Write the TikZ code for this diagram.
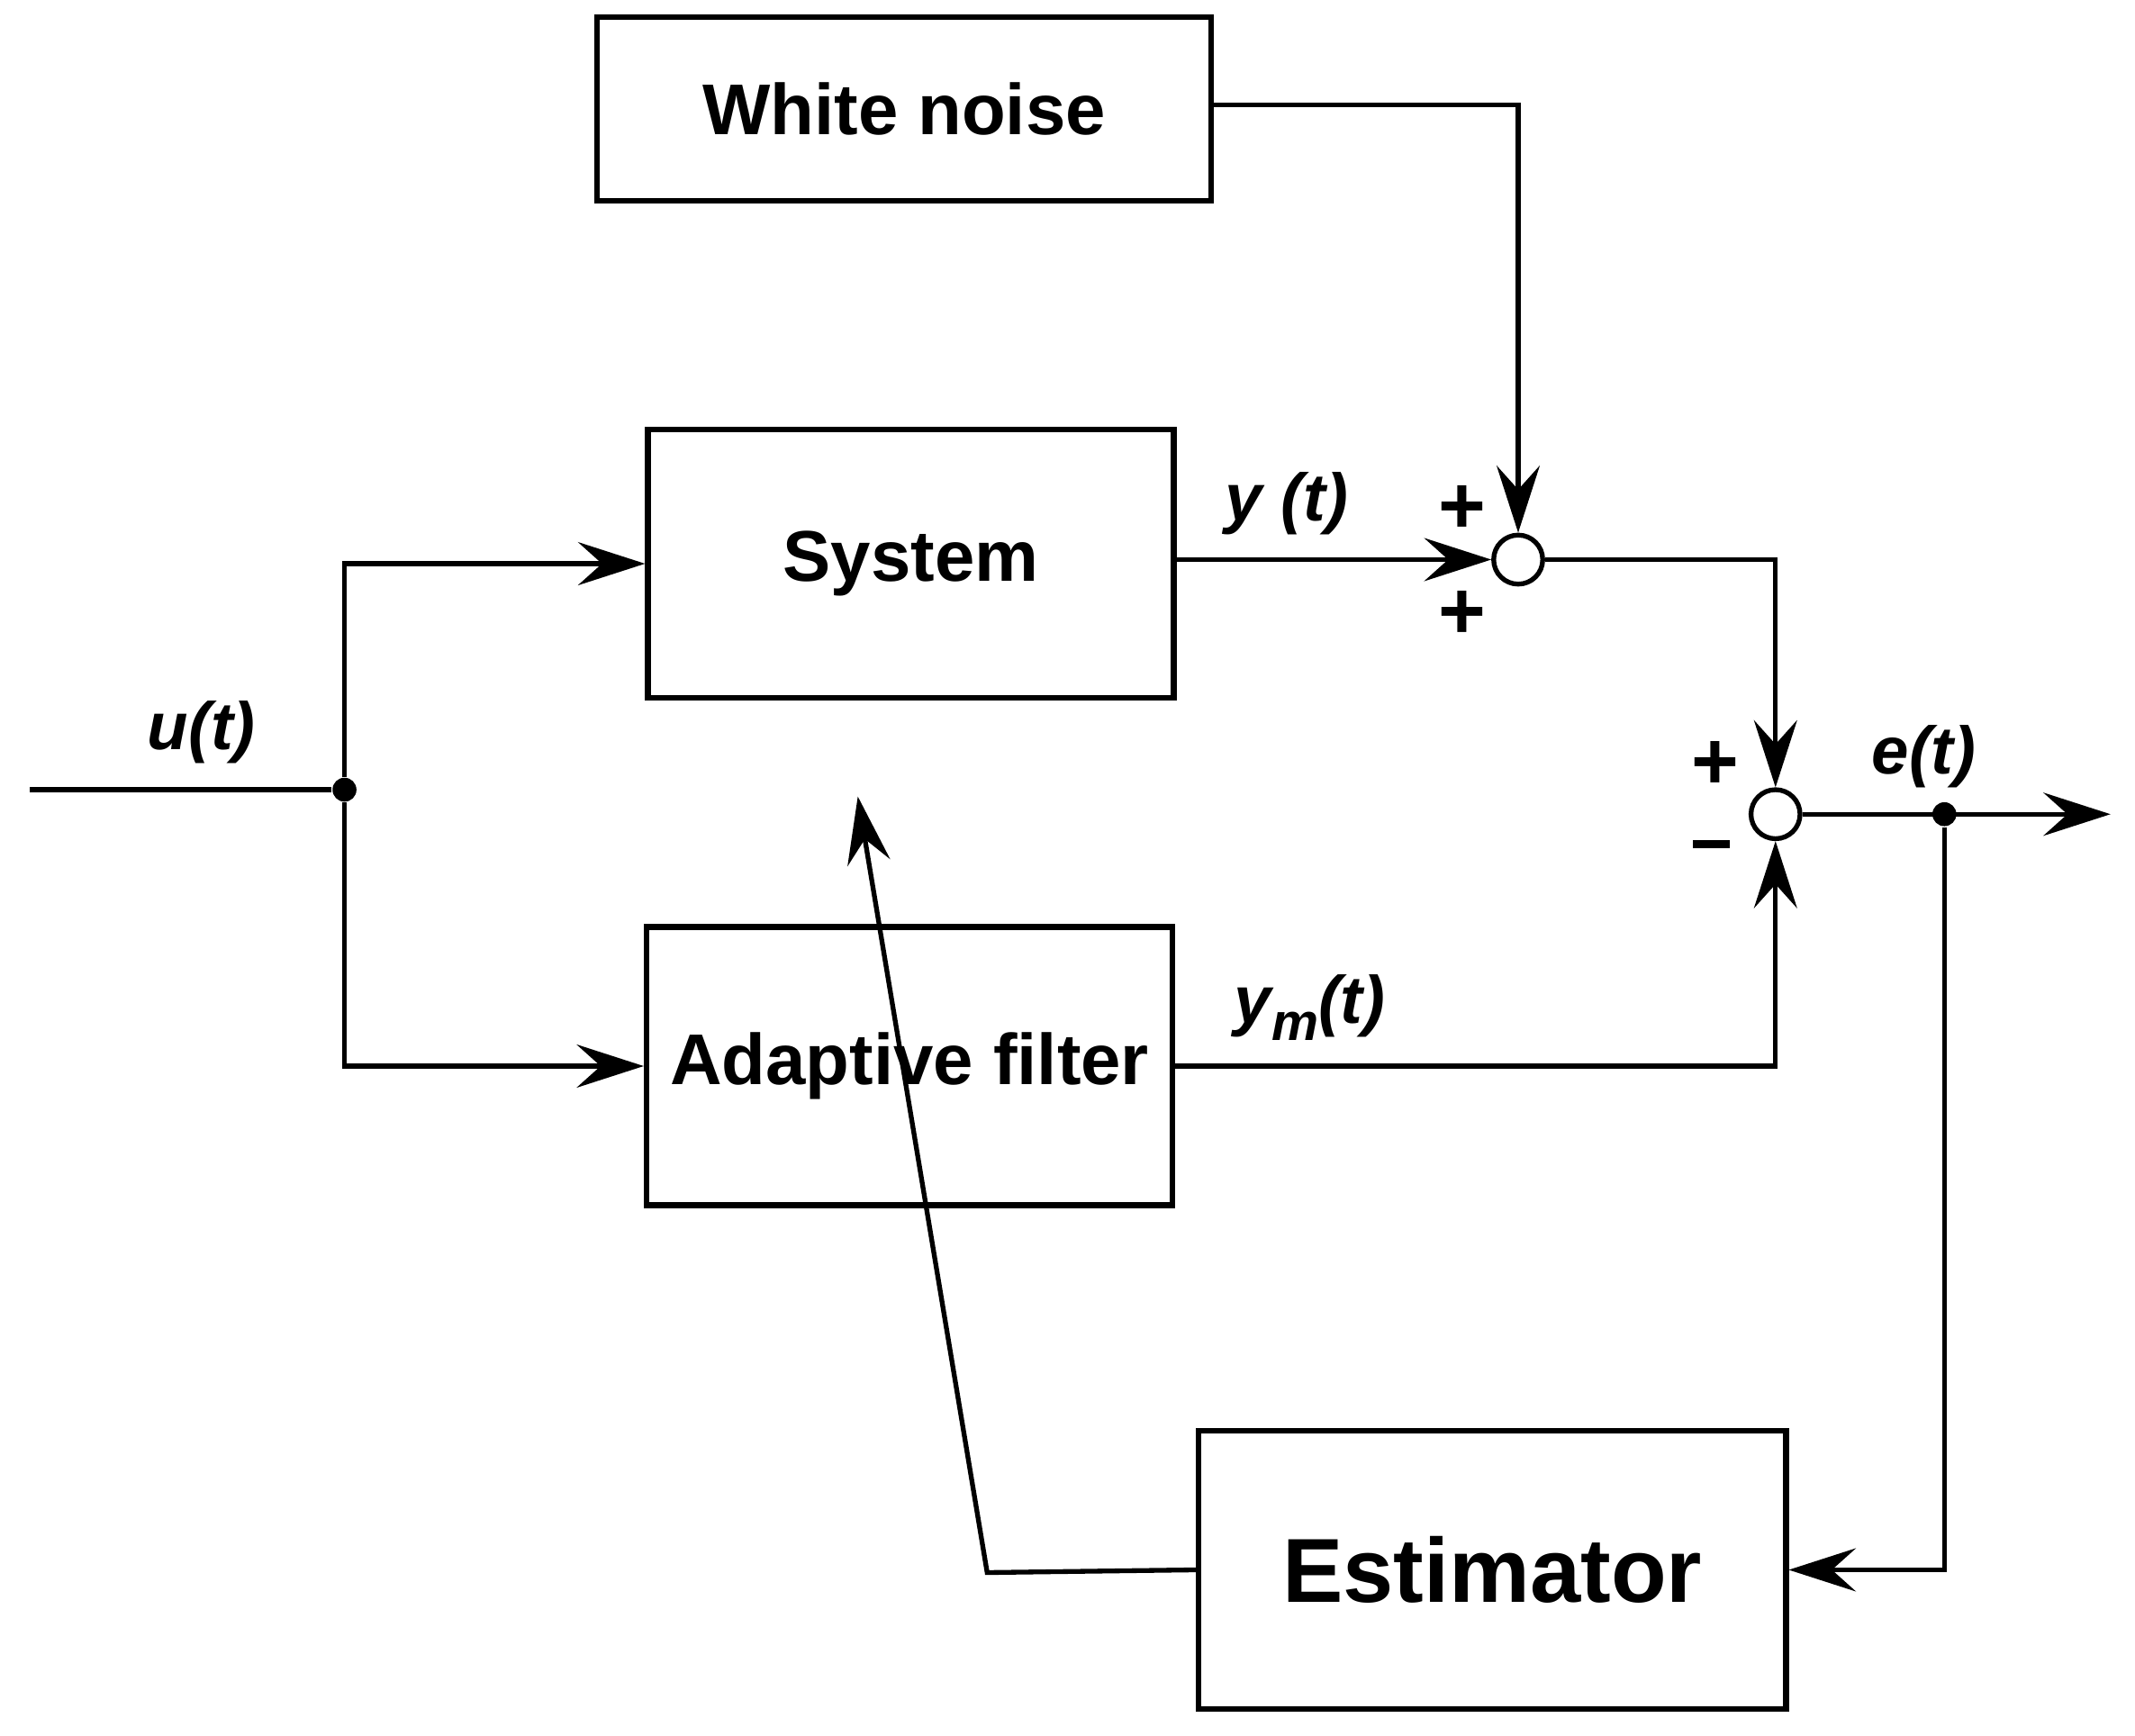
\documentclass[tikz,border=0pt]{standalone}
\usepackage{fontspec}
\setmainfont{Liberation Sans}
\usetikzlibrary{arrows.meta}
\usetikzlibrary{positioning}

\begin{document}
\begin{tikzpicture}[x=0.01cm, y=-0.01cm,
    block/.style={draw, line width=1.2pt, minimum width=3.86cm, minimum height=1.97cm, font=\bfseries\fontsize{15}{18}\selectfont},
    sumnode/.style={circle, draw, line width=1pt, minimum size=0.36cm, inner sep=0pt},
    sig/.style={line width=1pt},
    arr/.style={sig, -{Stealth[length=14pt, width=9pt, inset=5pt]}},
    lbl/.style={font=\bfseries\itshape\fontsize{14}{17}\selectfont},
    sgn/.style={font=\bfseries\fontsize{17}{20}\selectfont},
    dot/.style={circle, fill, inner sep=0pt, minimum size=5pt}]
\useasboundingbox (0,0) rectangle (1568,1275);

% Blocks
\node[block, minimum width=4.51cm, minimum height=1.35cm] (noise) at (664,80) {White noise};
\node[block] (sys) at (669,414) {System};
\node[block, minimum height=2.04cm] (filt) at (668,783) {Adaptive filter};
\node[block, minimum width=4.31cm, minimum height=2.04cm, font=\bfseries\fontsize{19}{22}\selectfont] (est) at (1096,1153) {Estimator};

% Summing points
\node[sumnode] (s1) at (1115,411) {};
\node[sumnode] (s2) at (1304,598) {};
\node[sgn] (p1) at (1074,374) {+};
\node[sgn] (p2) at (1074,452) {+};
\node[sgn] (p3) at (1260,562) {+};
\node[sgn] (m1) at (1257,628) {\rule[0.5ex]{0.45em}{1.6pt}};

% Labels
\node[lbl] (lu) at (148,538) {u(t)};
\node[lbl] (ly) at (945,370) {y (t)};
\node[lbl] (lym) at (962,740) {y\raisebox{-0.5ex}{\fontsize{11}{13}\selectfont m}(t)};
\node[lbl] (le) at (1413,556) {e(t)};

% Junctions
\coordinate (in) at (22,580);
\node[dot] (j1) at (253,580) {};
\node[dot] (j2) at (1428,598) {};
\coordinate (out) at (1550,598);
\coordinate (tip) at (630,585);
\coordinate (bend) at (725,1155);

% Signals
\draw[sig] (in) -- (j1);
\draw[arr] (j1) |- (sys.west);
\draw[arr] (j1) |- (filt.west);
\draw[arr] (sys.east |- s1) -- (s1.west);
\draw[arr] (noise.east |- 0,77) -| (s1.north);
\draw[arr] (s1.east) -| (s2.north);
\draw[arr] (filt.east) -| (s2.south);
\draw[arr] (s2.east) -- (out);
\draw[arr] (j2) |- (est.east);
\draw[arr] (est.west) -- (bend) -- (tip);
\end{tikzpicture}
\end{document}
